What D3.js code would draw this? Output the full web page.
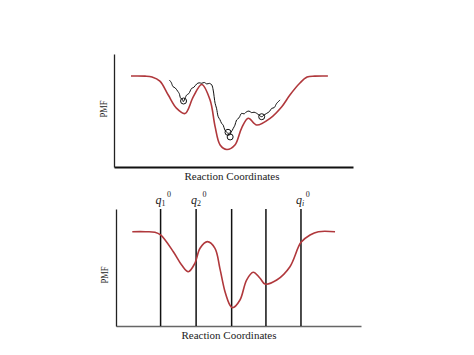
<!DOCTYPE html>
<html><head><meta charset="utf-8">
<script src="https://cdn.jsdelivr.net/npm/d3@7"></script>
<style>html,body{margin:0;padding:0;background:#fff;}svg{display:block}</style>
</head><body><svg id="c" width="474" height="355"></svg>
<script>
// ---- Data (reaction coordinate 0..100, PMF 0..10) ----
const topCurveRC  = [7.1, 13.0, 15.9, 19.2, 22.7, 26.2, 29.7, 33.2, 36.7, 40.2, 42.3, 44.4, 47.2, 50.6, 53.4, 56.2, 59.7, 65.3, 70.2, 73.6, 77.8, 80.8, 84.0, 89.5];
const topCurvePMF = [8.05, 8.04, 7.96, 7.6, 6.37, 5.19, 4.73, 6.22, 7.3, 5.93, 3.57, 1.95, 1.55, 1.95, 3.45, 4.31, 3.72, 4.31, 5.34, 6.37, 7.43, 7.96, 8.04, 8.05];

const trajRC  = [23.1, 23.9, 24.7, 25.6, 26.8, 27.3, 27.9, 28.6, 29.0, 30.4, 31.3, 32.5, 33.4, 34.6, 35.6, 36.7, 37.8, 38.8, 40.0, 40.9, 41.5, 42.3, 42.9, 43.6, 44.3, 45.0, 45.7, 46.4, 47.8, 49.0, 49.9, 50.6, 51.3, 52.3, 53.4, 54.4, 55.5, 56.5, 57.6, 58.6, 59.7, 61.8, 62.8, 63.9, 65.0, 66.0, 67.0, 68.1, 69.5];
const trajPMF = [7.70, 7.50, 7.11, 7.00, 6.66, 6.50, 6.08, 6.00, 5.78, 6.37, 6.50, 6.96, 7.05, 7.35, 7.45, 7.41, 7.48, 7.35, 7.40, 7.26, 6.81, 5.64, 5.20, 4.45, 4.20, 3.87, 3.70, 3.27, 2.98, 3.10, 3.42, 3.70, 4.16, 4.35, 4.75, 4.70, 4.89, 4.95, 4.81, 4.85, 4.75, 4.45, 4.60, 4.75, 4.90, 5.19, 5.25, 5.64, 5.93];

const loopRC  = [29.1, 47.7, 48.6, 61.8];
const loopPMF = [5.84, 3.07, 2.66, 4.45];

const botCurveRC  = [6.65, 12.0, 15.9, 18.2, 23.4, 26.8, 29.5, 32.2, 34.3, 37.3, 40.4, 42.4, 44.5, 46.5, 47.6, 50.6, 53.3, 56.0, 58.8, 60.8, 65.6, 71.0, 75.5, 79.2, 82.6, 89.4];
const botCurvePMF = [8.06, 8.06, 8.02, 7.78, 6.35, 5.21, 4.64, 5.36, 6.64, 7.21, 6.64, 4.93, 2.93, 1.79, 1.56, 2.22, 3.93, 4.59, 4.08, 3.59, 3.93, 5.07, 7.15, 7.78, 8.06, 8.06];

const windowRC   = [18.2, 32.7, 47.2, 61.2, 75.5];
const windowSub  = ["1", "2", "", "", "i"];
const windowSup  = ["0", "0", "", "", "0"];

const xTitle = "Reaction Coordinates";
const yTitle = "PMF";

// ---- Drawing ----
const svg = d3.select("#c");
const red = "#b0383c";
const ink = "#222";
const serif = "'Liberation Serif','Times New Roman',serif";

const xT = d3.scaleLinear().domain([0, 100]).range([114, 353]);
const yT = d3.scaleLinear().domain([0, 10]).range([167, 54]);
const xB = d3.scaleLinear().domain([0, 100]).range([116, 361]);
const yB = d3.scaleLinear().domain([0, 10]).range([326, 209]);

function axes(x, y, xw, yw, xcol) {
  const gx = svg.append("g").attr("transform", `translate(0,${y.range()[0]})`)
    .call(d3.axisBottom(x).tickValues([]).tickSizeOuter(0));
  gx.select(".domain").attr("stroke", xcol).attr("stroke-width", xw);
  const gy = svg.append("g").attr("transform", `translate(${x.range()[0]},0)`)
    .call(d3.axisLeft(y).tickValues([]).tickSizeOuter(0));
  gy.select(".domain").attr("stroke", ink).attr("stroke-width", yw);
}
const smooth = d3.curveCatmullRom.alpha(0.5);

// Top panel
axes(xT, yT, 2, 1.3, "#111");
const lineT = d3.line().x((d, i) => xT(topCurveRC[i])).y(d => yT(d)).curve(smooth);
svg.append("path").attr("d", lineT(topCurvePMF)).attr("fill", "none")
  .attr("stroke", red).attr("stroke-width", 1.6);

const lineTraj = d3.line().x((d, i) => xT(trajRC[i])).y(d => yT(d)).curve(d3.curveCatmullRom);
svg.append("path").attr("d", lineTraj(trajPMF)).attr("fill", "none")
  .attr("stroke", "#111").attr("stroke-width", 1);
svg.selectAll("circle.loop").data(loopPMF).join("circle").attr("class", "loop")
  .attr("cx", (d, i) => xT(loopRC[i])).attr("cy", d => yT(d)).attr("r", 3)
  .attr("fill", "none").attr("stroke", "#111").attr("stroke-width", 1);

svg.append("text").attr("x", 232).attr("y", 180).attr("text-anchor", "middle")
  .attr("font-family", serif).attr("font-size", 11).attr("fill", ink).text(xTitle);
svg.append("text").attr("transform", "translate(107,109) rotate(-90)").attr("text-anchor", "middle")
  .attr("font-family", serif).attr("font-size", 10).attr("fill", ink)
  .attr("textLength", 17).attr("lengthAdjust", "spacingAndGlyphs").text(yTitle);

// Bottom panel
axes(xB, yB, 1.5, 1.3, "#666");
svg.selectAll("line.win").data(windowRC).join("line").attr("class", "win")
  .attr("x1", d => xB(d)).attr("x2", d => xB(d))
  .attr("y1", yB(10)).attr("y2", yB(0))
  .attr("stroke", "#111").attr("stroke-width", 1.5);

const lineB = d3.line().x((d, i) => xB(botCurveRC[i])).y(d => yB(d)).curve(smooth);
svg.append("path").attr("d", lineB(botCurvePMF)).attr("fill", "none")
  .attr("stroke", red).attr("stroke-width", 1.6);

windowRC.forEach((v, i) => {
  if (!windowSub[i]) return;
  const t = svg.append("text").attr("x", xB(v) - 5).attr("y", 204)
    .attr("font-family", serif).attr("fill", ink);
  t.append("tspan").attr("font-size", 12).attr("font-style", "italic").attr("fill", ink).text("q");
  t.append("tspan").attr("font-size", 8).attr("dy", 2).attr("fill", ink)
    .attr("font-style", windowSub[i] === "i" ? "italic" : "normal").text(windowSub[i]);
  t.append("tspan").attr("font-size", 8).attr("dx", 1.5).attr("dy", -9).attr("fill", ink).text(windowSup[i]);
});

svg.append("text").attr("x", 229).attr("y", 339).attr("text-anchor", "middle")
  .attr("font-family", serif).attr("font-size", 11).attr("fill", ink).text(xTitle);
svg.append("text").attr("transform", "translate(108,275) rotate(-90)").attr("text-anchor", "middle")
  .attr("font-family", serif).attr("font-size", 10).attr("fill", ink)
  .attr("textLength", 17).attr("lengthAdjust", "spacingAndGlyphs").text(yTitle);
</script>
</body></html>
